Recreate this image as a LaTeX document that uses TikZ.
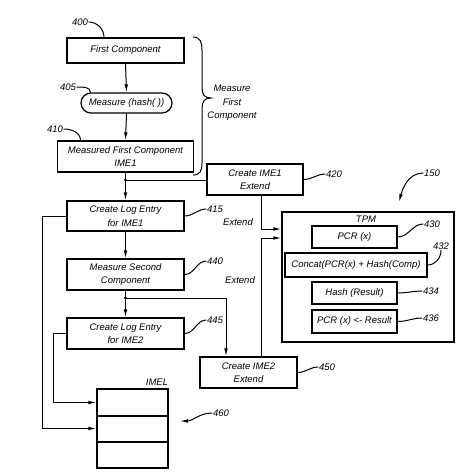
\documentclass[tikz,border=0pt]{standalone}
\usepackage{fontspec}
\setmainfont{Liberation Sans}
\usetikzlibrary{arrows.meta}
\begin{document}
\begin{tikzpicture}[x=1pt,y=-1pt,
  every node/.style={font=\fontsize{9.5}{13.5}\selectfont\itshape},
  box/.style={draw, line width=1.2pt, inner sep=0pt, align=center},
  conn/.style={line width=1pt},
  arr/.style={line width=1pt, -{Latex[length=8pt,width=3.6pt]}},
  lead/.style={line width=1pt},
  num/.style={inner sep=0.5pt}]
\useasboundingbox (0,0) rectangle (474,475);

% main flow boxes
\node[box, minimum width=117pt, minimum height=25pt] (b400) at (125.5,50.5) {First Component};
\node[box, minimum width=91pt, minimum height=20pt, rounded corners=10pt] (b405) at (126.5,103) {Measure (hash( ))};
\node[box, minimum width=136pt, minimum height=31pt] (b410) at (125.5,156.5) {Measured First Component\\IME1};
\node[box, minimum width=96pt, minimum height=31pt] (b420) at (255,179.5) {Create IME1\\Extend};
\node[box, minimum width=117pt, minimum height=30pt] (b415) at (125.5,216) {Create Log Entry\\for IME1};
\node[box, minimum width=117pt, minimum height=31pt] (b440) at (125.5,274.5) {Measure Second\\Component};
\node[box, minimum width=117pt, minimum height=31pt] (b445) at (125.5,333.5) {Create Log Entry\\for IME2};
\node[box, minimum width=97pt, minimum height=31pt] (b450) at (248.5,372.5) {Create IME2\\Extend};

% TPM
\node[box, minimum width=172pt, minimum height=130pt] (tpm) at (368,277) {};
\node (tpmt) at (366,219) {TPM};
\node[box, minimum width=85pt, minimum height=22pt] (b430) at (354.5,237) {PCR (x)};
\node[box, minimum width=142pt, minimum height=24pt] (b432) at (356,265) {Concat(PCR(x) + Hash(Comp)};
\node[box, minimum width=85pt, minimum height=22pt] (b434) at (354.5,293) {Hash (Result)};
\node[box, minimum width=85pt, minimum height=23pt] (b436) at (354.5,321.5) {PCR (x) <- Result};

% IMEL
\node[box, minimum width=71pt, minimum height=79pt] (imel) at (132.5,428.5) {};
\draw[line width=1.2pt] (imel.west |- 0,416) -- (imel.east |- 0,416);
\draw[line width=1.2pt] (imel.west |- 0,442) -- (imel.east |- 0,442);
\node (imelt) at (157,382) {IMEL};

% brace and its text
\draw[lead] (193,37) .. controls (200,37) and (202,42) .. (202,50) -- (202,88)
  .. controls (202,95) and (205,98) .. (211,98)
  .. controls (205,98) and (202,101) .. (202,108) -- (202,163)
  .. controls (202,171) and (200,175) .. (193,175);
\node[align=center] (brt) at (232,103) {Measure\\First\\Component};

% extend labels
\node (ext1) at (238,222) {Extend};
\node (ext2) at (240,280) {Extend};

% connectors
\coordinate (j1) at (125.5,180);
\coordinate (j2) at (125.5,298);
\draw[arr] (b400.south) -- (b405.north);
\draw[arr] (b405.south) -- (b410.north);
\draw[arr] (b410.south) -- (b415.north);
\draw[conn] (j1) -- (b420.west |- j1);
\fill (j1) circle (1.6pt);
\draw[arr] (b415.south) -- (b440.north);
\draw[arr] (b440.south) -- (b445.north);
\fill (j2) circle (1.6pt);
\draw[arr] (j2) -| ([xshift=-22.5pt]b450.north);
\draw[arr] ([xshift=6pt]b420.south) |- ([yshift=48pt]tpm.west);
\draw[arr] ([xshift=12.5pt]b450.north) |- ([yshift=39pt]tpm.west);
\draw[arr] (b415.west) -- ++(-24,0) |- (imel.west);
\draw[arr] (b445.west) -- ++(-13,0) |- ([yshift=26pt]imel.west);

% reference numbers
\node[num] (l400) at (80,22) {400};
\node[num] (l405) at (68,87) {405};
\node[num] (l410) at (55,129) {410};
\node[num] (l420) at (334,174) {420};
\node[num] (l415) at (215,209) {415};
\node[num] (l440) at (215,261) {440};
\node[num] (l445) at (215,320) {445};
\node[num] (l450) at (327,367) {450};
\node[num] (l430) at (432,224) {430};
\node[num] (l432) at (441,246) {432};
\node[num] (l434) at (431,291) {434};
\node[num] (l436) at (431,318) {436};
\node[num] (l460) at (221,413) {460};
\node[num] (l150) at (432,173) {150};

\draw[lead] (l400.east) to[out=0,in=90] ([xshift=-21.5pt]b400.north);
\draw[lead] (l405.east) to[out=0,in=90] ([xshift=-36pt]b405.north);
\draw[lead] (l410.east) to[out=0,in=90] ([xshift=-45pt]b410.north);
\draw[lead] (b420.east) to[out=0,in=180] (l420.west);
\draw[lead] (b415.east) to[out=0,in=180] (l415.west);
\draw[lead] (b440.east) to[out=0,in=180] (l440.west);
\draw[lead] (b445.east) to[out=0,in=180] (l445.west);
\draw[lead] (b450.east) to[out=0,in=180] (l450.west);
\draw[lead] (b430.east) to[out=0,in=180] (l430.west);
\draw[lead] (b432.east) to[out=0,in=-90] (l432.south);
\draw[lead] (b434.east) to[out=0,in=180] (l434.west);
\draw[lead] (b436.east) to[out=0,in=180] (l436.west);
\coordinate (t460) at (180,421);
\draw[arr] (l460.west) to[out=180,in=0] (t460);
\coordinate (t150) at (399,202);
\draw[arr] (l150.west) to[out=180,in=75] (t150);
\end{tikzpicture}
\end{document}
